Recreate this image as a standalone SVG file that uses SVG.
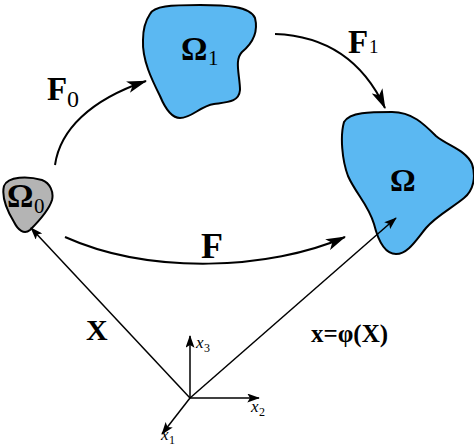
<svg xmlns="http://www.w3.org/2000/svg" width="474" height="447" viewBox="0 0 474 447">
<style>
.blob{stroke:#000;stroke-width:2}
.blue{fill:#5bb8f2}
.gray{fill:#b4b4b4}
.c{fill:none;stroke:#000;stroke-width:2}
.t{fill:none;stroke:#000;stroke-width:1.5}
.lab{font-family:"Liberation Serif","Times New Roman",serif;font-weight:bold;fill:#000}
.sub{font-family:"Liberation Serif","Times New Roman",serif;font-weight:normal;fill:#000}
.ax{font-family:"Liberation Serif","Times New Roman",serif;font-style:italic;fill:#000;font-size:17px}
.axs{font-family:"Liberation Serif","Times New Roman",serif;fill:#000;font-size:12px}
</style>
<defs>
<marker id="ah" viewBox="0 0 20 12" refX="19" refY="6" markerWidth="20" markerHeight="12" markerUnits="userSpaceOnUse" orient="auto">
<path d="M0,0 L20,6 L0,12 L5,6 Z" fill="#000"/>
</marker>
<marker id="as" viewBox="0 0 14 10" refX="13" refY="5" markerWidth="13" markerHeight="9" markerUnits="userSpaceOnUse" orient="auto">
<path d="M0,0 L14,5 L0,10 L3,5 Z" fill="#000"/>
</marker>
</defs>
<g id="omega0">
<path class="blob gray" d="M4,186 C8,176 28,176 42,180 C50,183 54,192 52,200 C49,210 40,220 30,230 C24,235 18,230 14,222 C8,212 1,198 4,186 Z"/>
<text class="lab" x="7" y="207" style="font-size:33px">Ω</text>
<text class="sub" x="34" y="213" style="font-size:21px">0</text>
</g>
<g id="omega1">
<path class="blob blue" d="M150,14 C154,6 170,5 200,5 C225,5 250,6 255,18 C258,30 254,42 242,52 C234,60 240,76 240,90 C239,102 228,102 214,104 C200,106 192,118 180,118 C172,118 165,108 160,96 C152,80 142,60 143,40 C143,28 146,20 150,14 Z"/>
<text class="lab" x="181" y="60" style="font-size:33px">Ω</text>
<text class="sub" x="208" y="65" style="font-size:21px">1</text>
</g>
<g id="omega">
<path class="blob blue" d="M344,122 C350,112 370,112 392,112 C412,112 424,124 436,136 C448,146 466,150 472,164 C476,176 474,190 464,198 C452,208 436,216 426,228 C416,240 408,254 396,254 C384,254 378,240 374,224 C368,204 356,194 348,176 C342,160 340,136 344,122 Z"/>
<text class="lab" x="390" y="191" style="font-size:32px">Ω</text>
</g>
<g id="connectors">
<path class="c" d="M55,165 C60,130 90,100 146,81" marker-end="url(#ah)"/>
<path class="c" d="M275,34 C330,36 365,65 385,108" marker-end="url(#ah)"/>
<path class="c" d="M65,237 C150,275 270,270 345,237" marker-end="url(#ah)"/>
<line class="t" x1="190" y1="398" x2="31" y2="228" marker-end="url(#as)"/>
<line class="t" x1="190" y1="398" x2="396" y2="218" marker-end="url(#as)"/>
<line class="t" x1="190" y1="398" x2="190" y2="336" marker-end="url(#as)"/>
<line class="t" x1="190" y1="398" x2="259" y2="398" marker-end="url(#as)"/>
<line class="t" x1="190" y1="398" x2="162" y2="434" marker-end="url(#as)"/>
</g>
<g id="labels">
<text class="lab" x="47" y="100" style="font-size:33px">F</text>
<text class="sub" x="67" y="107" style="font-size:24px">0</text>
<text class="lab" x="348" y="53" style="font-size:33px">F</text>
<text class="sub" x="369" y="53" style="font-size:19px">1</text>
<text class="lab" x="201" y="258" style="font-size:36px">F</text>
<text class="lab" x="86" y="340" style="font-size:30px">X</text>
<text class="lab" x="311" y="342" style="font-size:25px">x=φ(X)</text>
<text class="ax" x="196" y="348">x</text>
<text class="axs" x="204" y="352">3</text>
<text class="ax" x="251" y="412">x</text>
<text class="axs" x="259" y="416">2</text>
<text class="ax" x="161" y="440">x</text>
<text class="axs" x="169" y="444">1</text>
</g>
</svg>
